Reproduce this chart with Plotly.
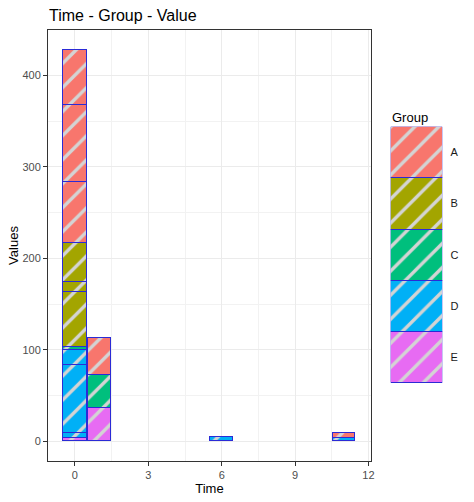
import plotly.graph_objects as go

# ---- data (rows listed bottom-to-top within each stack) ----
times  = [0, 0, 0, 0, 0, 0, 0, 0, 0, 0, 0, 1, 1, 1, 6, 11, 11]
groups = ["E", "D", "D", "D", "C", "B", "B", "B", "A", "A", "A", "E", "C", "A", "D", "D", "A"]
values = [4, 5.5, 74, 16.5, 3.5, 59.5, 11.5, 42.5, 66.5, 83.5, 61, 37, 36, 39.5, 4.5, 3.5, 5.5]

group_levels = ["A", "B", "C", "D", "E"]
group_colors = ["#F8766D", "#A3A500", "#00BF7D", "#00B0F6", "#E76BF3"]
color_of = dict(zip(group_levels, group_colors))

x_ticks = [0, 3, 6, 9, 12]
y_ticks = [0, 100, 200, 300, 400]

BORDER = "#2b2bd6"
FONT = "Liberation Sans, Arial, sans-serif"

def pattern(col):
    return dict(shape="/", fillmode="replace", bgcolor=col, fgcolor="#d4d4d4",
                size=17, solidity=0.2)

fig = go.Figure()

for t, g, v in zip(times, groups, values):
    fig.add_trace(go.Bar(
        x=[t], y=[v], width=0.92 if t != 0 else 0.98,
        marker=dict(color=color_of[g], line=dict(color=BORDER, width=1),
                    pattern=pattern(color_of[g])),
        showlegend=False, xaxis="x", yaxis="y", name=g,
    ))

# legend drawn as a stacked key bar on its own axes (E bottom ... A top)
for g in reversed(group_levels):
    fig.add_trace(go.Bar(
        x=[0], y=[1], width=1,
        marker=dict(color=color_of[g], line=dict(color=BORDER, width=1),
                    pattern=pattern(color_of[g])),
        showlegend=False, xaxis="x2", yaxis="y2", name=g, hoverinfo="skip",
    ))

W, H = 474, 502
ml, mr, mt, mb = 48, 0, 30, 41
pw, ph = W - ml - mr, H - mt - mb

grid = "#ebebeb"
tickfont = dict(family=FONT, size=11, color="#4d4d4d")

fig.update_layout(
    width=W, height=H,
    margin=dict(l=ml, r=mr, t=mt, b=mb),
    paper_bgcolor="white", plot_bgcolor="white",
    barmode="stack", bargap=0,
    font=dict(family=FONT),
    title=dict(text="Time - Group - Value", x=49 / W, xanchor="left",
               xref="container", y=1 - 15 / H, yanchor="middle", yref="container",
               font=dict(family=FONT, size=16, color="black")),
    xaxis=dict(domain=[0, (374 - ml) / pw], range=[-1.1, 12.1],
               tickvals=x_ticks, ticktext=[str(v) for v in x_ticks],
               ticks="outside", ticklen=4, tickcolor="#333333", tickfont=tickfont,
               showgrid=True, gridcolor=grid, gridwidth=1,
               minor=dict(dtick=1.5, tick0=0, showgrid=True, gridcolor="#f2f2f2", gridwidth=1, ticks=""),
               showline=True, mirror=True, linecolor="#333333", linewidth=1, zeroline=False,
               title=dict(text="Time", font=dict(family=FONT, size=13, color="black"), standoff=2)),
    yaxis=dict(domain=[0, 1], range=[-21.4, 449.4],
               tickvals=y_ticks, ticktext=[str(v) for v in y_ticks],
               ticks="outside", ticklen=4, tickcolor="#333333", tickfont=tickfont,
               showgrid=True, gridcolor=grid, gridwidth=1,
               minor=dict(dtick=50, tick0=0, showgrid=True, gridcolor="#f2f2f2", gridwidth=1, ticks=""),
               showline=True, mirror=True, linecolor="#333333", linewidth=1, zeroline=False,
               title=dict(text="Values", font=dict(family=FONT, size=13, color="black"), standoff=0)),
    xaxis2=dict(domain=[(394 - ml) / pw, (446 - ml) / pw], range=[-0.5, 0.5],
                anchor="y2", showgrid=False, zeroline=False, showticklabels=False,
                showline=False, fixedrange=True),
    yaxis2=dict(domain=[(H - mb - 383) / ph, (H - mb - 126.7) / ph], range=[0, 5],
                anchor="x2", side="right", showgrid=False, zeroline=False, showline=False,
                tickvals=[4.5, 3.5, 2.5, 1.5, 0.5], ticktext=group_levels,
                ticks="outside", ticklen=5, tickcolor="rgba(0,0,0,0)",
                tickfont=dict(family=FONT, size=11, color="#1a1a1a"), fixedrange=True),
    annotations=[dict(text="Group", xref="paper", yref="paper",
                      x=(393 - ml) / pw, y=(H - mb - 117) / ph, xanchor="left", yanchor="middle",
                      showarrow=False, font=dict(family=FONT, size=13, color="black"))],
)

fig.write_html("out.html")
